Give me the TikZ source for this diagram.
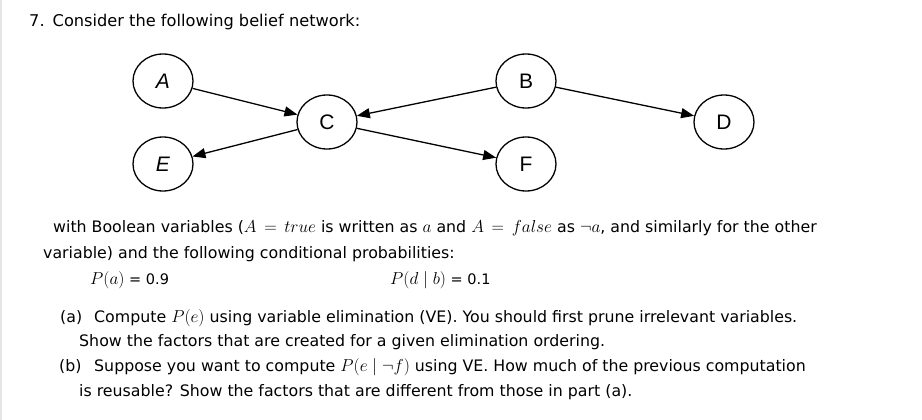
\documentclass[tikz,border=0pt]{standalone}
\usepackage{amsmath}
\usepackage{fontspec}
\setmainfont{DejaVu Sans}
\newfontfamily\arialf{Liberation Sans}
\usetikzlibrary{shapes.geometric,arrows.meta}
\newcommand{\mymath}[1]{{\fontsize{17.5}{18}\selectfont$#1$}}
\begin{document}
\begin{tikzpicture}[x=1pt,y=-1pt,
  bn/.style={ellipse,draw,line width=1.3pt,minimum width=60pt,minimum height=54pt,inner sep=0pt,font=\arialf\fontsize{21}{21}\selectfont},
  arr/.style={-{Triangle[length=13pt,width=10pt]},line width=1.3pt},
  txt/.style={anchor=base west,inner sep=0pt,font=\fontsize{15.8}{18}\selectfont}]
\useasboundingbox (0,0) rectangle (922,420);
\fill[white] (0,0) rectangle (922,420);
\fill[black!10] (0,0) rectangle (2,420);
\node[txt,font=\fontsize{16.2}{18}\selectfont] (t0) at (29,27) {7.\enspace Consider the following belief network:};
\node[bn] (A) at (163,81) {\textit{A}};
\node[bn] (C) at (327,122) {C};
\node[bn] (E) at (163,164) {\textit{E}};
\node[bn] (B) at (526,81) {B};
\node[bn] (D) at (724,122) {D};
\node[bn] (F) at (526,164) {F};
\draw[arr] (A) -- (C);
\draw[arr] (B) -- (C);
\draw[arr] (C) -- (E);
\draw[arr] (C) -- (F);
\draw[arr] (B) -- (D);
\node[txt] (l1) at (53,232) {with Boolean variables (\mymath{A\,=\,\mathnormal{true}} is written as \mymath{a} and \mymath{A\,=\,\mathnormal{false}} as \mymath{\neg a}, and similarly for the other};
\node[txt] (l2) at (43,258) {variable) and the following conditional probabilities:};
\node[txt,font=\fontsize{14.5}{16}\selectfont] (p1) at (90,284) {\mymath{P(a)} = 0.9};
\node[txt,font=\fontsize{14.5}{16}\selectfont] (p2) at (390,284) {\mymath{P(d \mid b)} = 0.1};
\node[txt] (a1) at (60,322) {(a)};
\node[txt] (a2) at (94,322) {Compute \mymath{P(e)} using variable elimination (VE). You should first prune irrelevant variables.};
\node[txt] (a3) at (79,346) {Show the factors that are created for a given elimination ordering.};
\node[txt] (b1) at (59,371) {(b)};
\node[txt] (b2) at (94,371) {Suppose you want to compute \mymath{P(e \mid \neg f)} using VE. How much of the previous computation};
\node[txt] (b3) at (79,396) {is reusable? Show the factors that are different from those in part (a).};
\end{tikzpicture}
\end{document}
